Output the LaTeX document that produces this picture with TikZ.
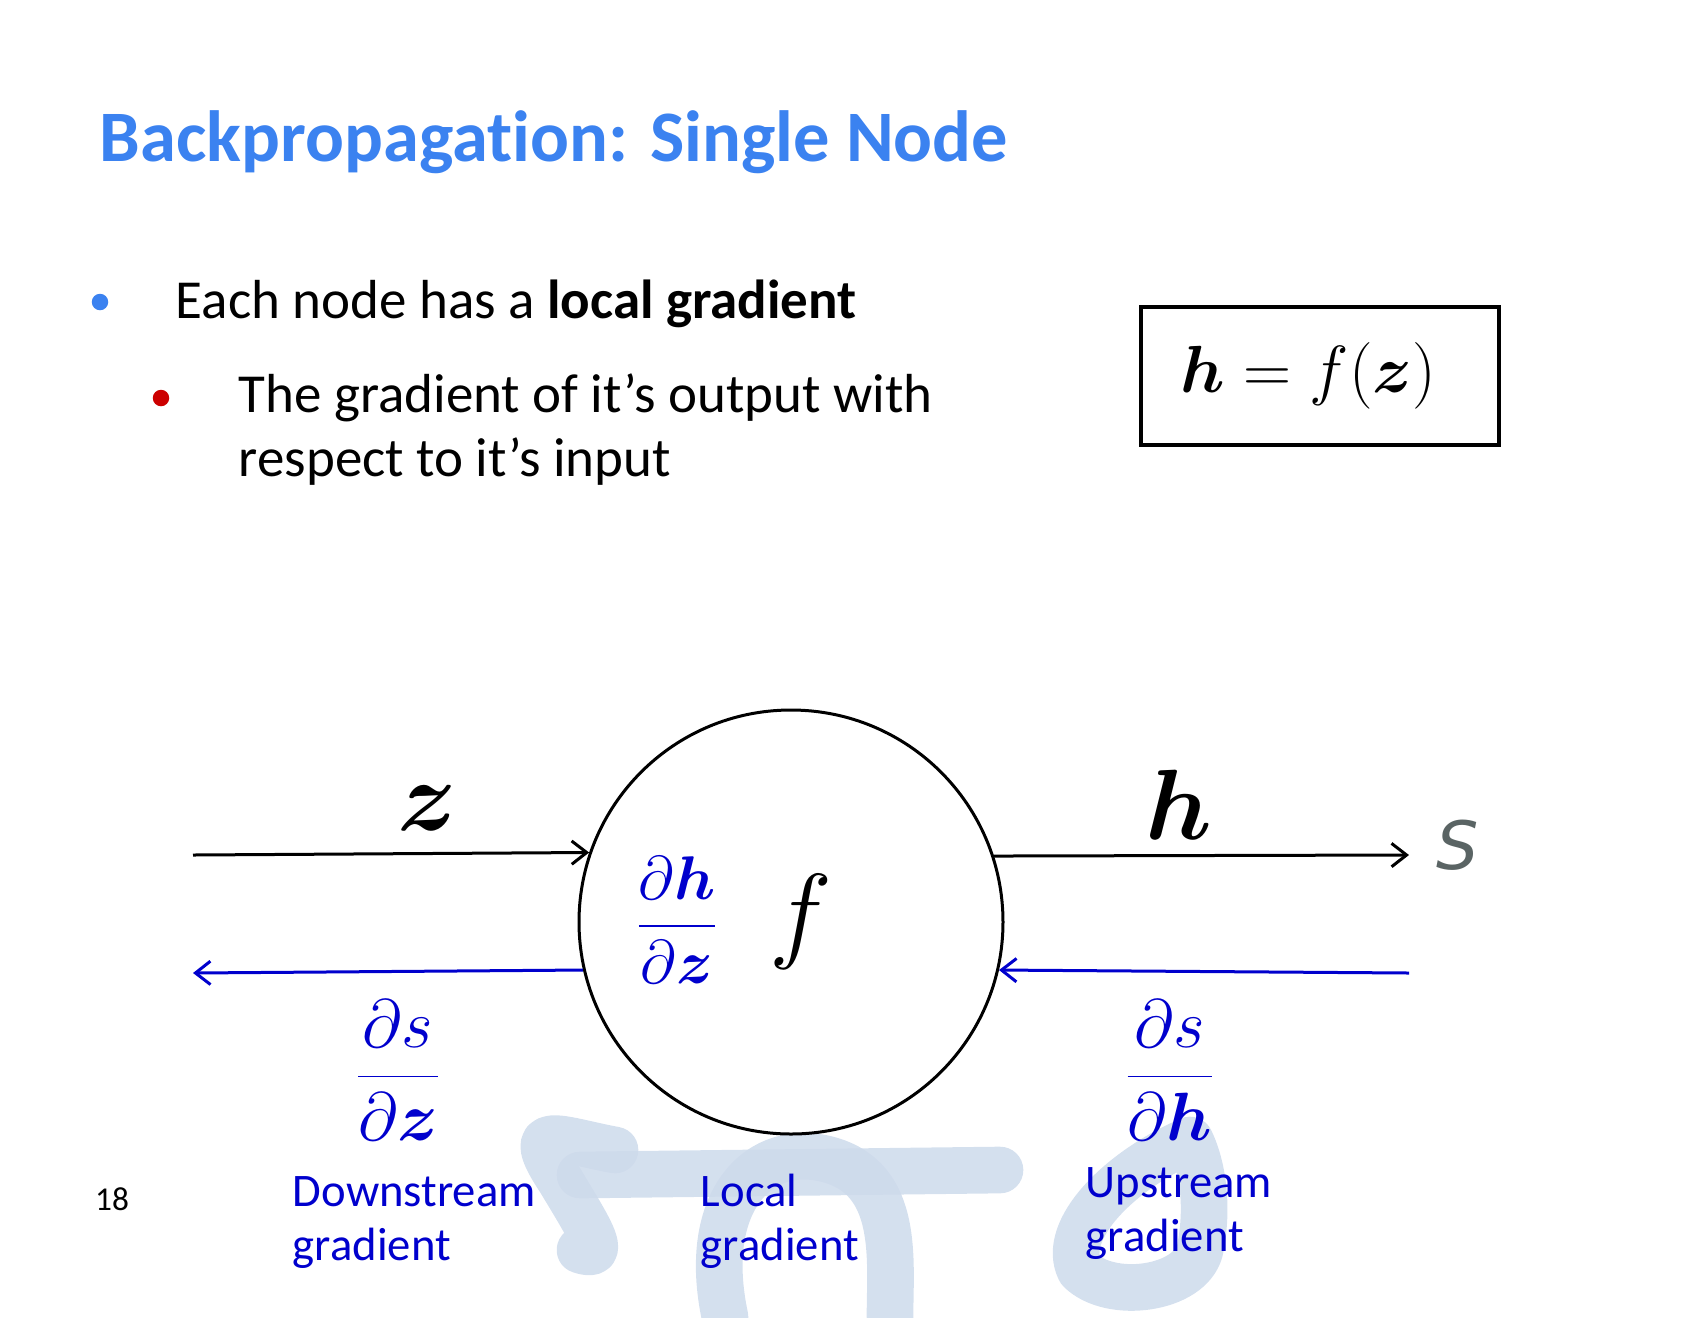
\documentclass[tikz,border=0pt]{standalone}
\usepackage{fix-cm}
\usepackage{amsmath,bm}
\usepackage{fontspec}
\setmainfont[Ligatures={NoCommon}]{Carlito}
\usetikzlibrary{arrows.meta}
\definecolor{titleblue}{RGB}{59,130,240}
\definecolor{lblue}{RGB}{0,0,205}
\definecolor{swirl}{RGB}{205,218,235}
\definecolor{sgray}{RGB}{90,100,100}
\tikzset{
  lab/.style={anchor=base west,text=lblue,font=\fontsize{28}{34}\selectfont,align=left},
  fw/.style={draw=black,line width=1.8pt,-{Straight Barb[length=9pt,width=14pt,line width=1.8pt]}},
  bw/.style={draw=lblue,line width=1.8pt,-{Straight Barb[length=9pt,width=14pt,line width=1.8pt]}},
}
\begin{document}
\begin{tikzpicture}[x=0.6pt,y=-0.6pt]
\useasboundingbox (0,0) rectangle (1700,1317);
% swirl annotation
\begin{scope}[swirl,line width=28pt,line cap=round,line join=round,opacity=0.85]
\draw (615,1150) .. controls (560,1140) and (520,1120) .. (560,1180) .. controls (590,1230) and (610,1260) .. (580,1250);
\draw (580,1175) -- (1000,1170);
\draw (725,1317) .. controls (700,1200) and (760,1140) .. (830,1160) .. controls (900,1180) and (890,1260) .. (890,1317);
\draw (1190,1140) .. controls (1120,1170) and (1060,1230) .. (1080,1270) .. controls (1110,1300) and (1190,1290) .. (1200,1250) .. controls (1210,1200) and (1200,1160) .. (1190,1140);
\end{scope}
\node[anchor=base west,text=titleblue,font=\fontsize{43.5}{50}\selectfont\bfseries] (title) at (94,161) {Backpropagation: Single Node};
\node[circle,fill=titleblue,inner sep=3.5pt] (b1) at (100,302) {};
\node[anchor=base west,font=\fontsize{33}{40}\selectfont] (t1) at (170,318) {Each node has a \textbf{local gradient}};
\node[circle,fill=red!80!black,inner sep=3.5pt] (b2) at (161,398) {};
\node[anchor=base west,font=\fontsize{33}{40}\selectfont] (t2) at (233,412) {The gradient of it’s output with};
\node[anchor=base west,font=\fontsize{33}{40}\selectfont] (t3) at (233,476) {respect to it’s input};
\node[draw,line width=2.4pt,minimum width=358*0.6pt,minimum height=138*0.6pt,font=\fontsize{40}{46}\selectfont] (eq) at (1320,376) {\hspace*{-14pt}$\bm{h}=f(\bm{z})$};
\node[circle,draw,line width=1.8pt,minimum size=424*0.6pt] (f) at (791,922) {};
\coordinate (zl) at (193,855);
\coordinate (sr) at (1409,855);
\coordinate (bl) at (193,973);
\coordinate (br) at (1409,973);
\draw[fw] (zl) -- (f.{180-asin(67/212)});
\draw[fw] (f.{asin(67/212)}) -- (sr);
\draw[bw] (f.{180+asin(51/212)}) -- (bl);
\draw[bw] (br) -- (f.{-asin(51/212)});
\node[font=\fontsize{60}{66}\selectfont] (z) at (427,808) {$\bm{z}$};
\node[font=\fontsize{60}{66}\selectfont] (h) at (1179,805) {$\bm{h}$};
\node[text=sgray,font=\fontsize{40}{44}\selectfont\fontspec{DejaVu Sans ExtraLight}\itshape] (s) at (1458,845) {S};
\node[font=\fontsize{37}{44}\selectfont,text=lblue] (dhdz) at (677,920) {$\dfrac{\partial\bm{h}}{\partial\bm{z}}$};
\node[font=\fontsize{64}{70}\selectfont] (fl) at (801,922) {$f$};
\node[font=\fontsize{41}{48}\selectfont,text=lblue] (dsdz) at (398,1070) {$\dfrac{\partial s}{\partial\bm{z}}$};
\node[font=\fontsize{41}{48}\selectfont,text=lblue] (dsdh) at (1170,1070) {$\dfrac{\partial s}{\partial\bm{h}}$};
\node[lab] (d1) at (287,1206) {Downstream};
\node[lab] (d2) at (287,1260) {gradient};
\node[lab] (l1) at (695,1206) {Local};
\node[lab] (l2) at (695,1260) {gradient};
\node[lab] (u1) at (1080,1197) {Upstream};
\node[lab] (u2) at (1080,1251) {gradient};
\node[anchor=base,font=\fontsize{20}{24}\selectfont] (pg) at (112,1210) {18};
\end{tikzpicture}
\end{document}
